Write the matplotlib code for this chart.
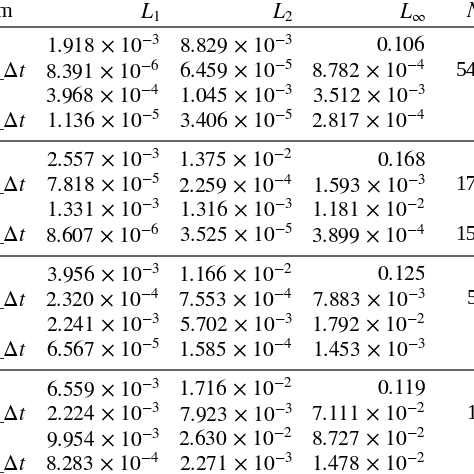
import matplotlib.pyplot as plt

plt.rcParams['mathtext.fontset'] = 'stix'
plt.rcParams['font.family'] = ['Liberation Serif', 'DejaVu Serif']

headers = ["$L_1$", "$L_2$", "$L_\\infty$"]
l1 = [(1.918, -3), (8.391, -6), (3.968, -4), (1.136, -5),
      (2.557, -3), (7.818, -5), (1.331, -3), (8.607, -6),
      (3.956, -3), (2.320, -4), (2.241, -3), (6.567, -5),
      (6.559, -3), (2.224, -3), (9.954, -3), (8.283, -4)]
l2 = [(8.829, -3), (6.459, -5), (1.045, -3), (3.406, -5),
      (1.375, -2), (2.259, -4), (1.316, -3), (3.525, -5),
      (1.166, -2), (7.553, -4), (5.702, -3), (1.585, -4),
      (1.716, -2), (7.923, -3), (2.630, -2), (2.271, -3)]
linf = [(0.106, 0), (8.782, -4), (3.512, -3), (2.817, -4),
        (0.168, 0), (1.593, -3), (1.181, -2), (3.899, -4),
        (0.125, 0), (7.883, -3), (1.792, -2), (1.453, -3),
        (0.119, 0), (7.111, -2), (8.727, -2), (1.478, -2)]
n_col = {1: "54", 5: "17", 7: "15", 9: "5", 13: "1"}

def fmt(v):
    m, e = v
    if e == 0:
        return "$%.3f$" % m
    return "$%.3f\\,\\times\\,10^{%d}$" % (m, e)

fig = plt.figure(figsize=(4.74, 4.74), dpi=100)
ax = fig.add_axes([0, 0, 1, 1])
ax.set_xlim(0, 474)
ax.set_ylim(474, 0)
ax.axis('off')

fs = 15.5
ax.text(12, 12, "m", ha='right', va='center', fontsize=fs)
col_x = [160, 293, 426]
for x, h in zip(col_x, headers):
    ax.text(x, 12, h, ha='right', va='center', fontsize=fs)
ax.text(466, 12, "$N$", ha='left', va='center', fontsize=fs)

for y in [27, 141, 256, 370]:
    ax.axhline(y, color='#555555', lw=1.3)

for i in range(16):
    g, r = divmod(i, 4)
    y = 46 + g * 114.5 + r * 25
    if r in (1, 3):
        ax.text(27, y, "_$\\Delta t$", ha='right', va='center', fontsize=fs)
    for x, col in zip(col_x, [l1, l2, linf]):
        ax.text(x, y, fmt(col[i]), ha='right', va='center', fontsize=fs)
    if i in n_col:
        ax.text(477, y, n_col[i], ha='right', va='center', fontsize=fs)

fig.savefig("out.png", dpi=100)
